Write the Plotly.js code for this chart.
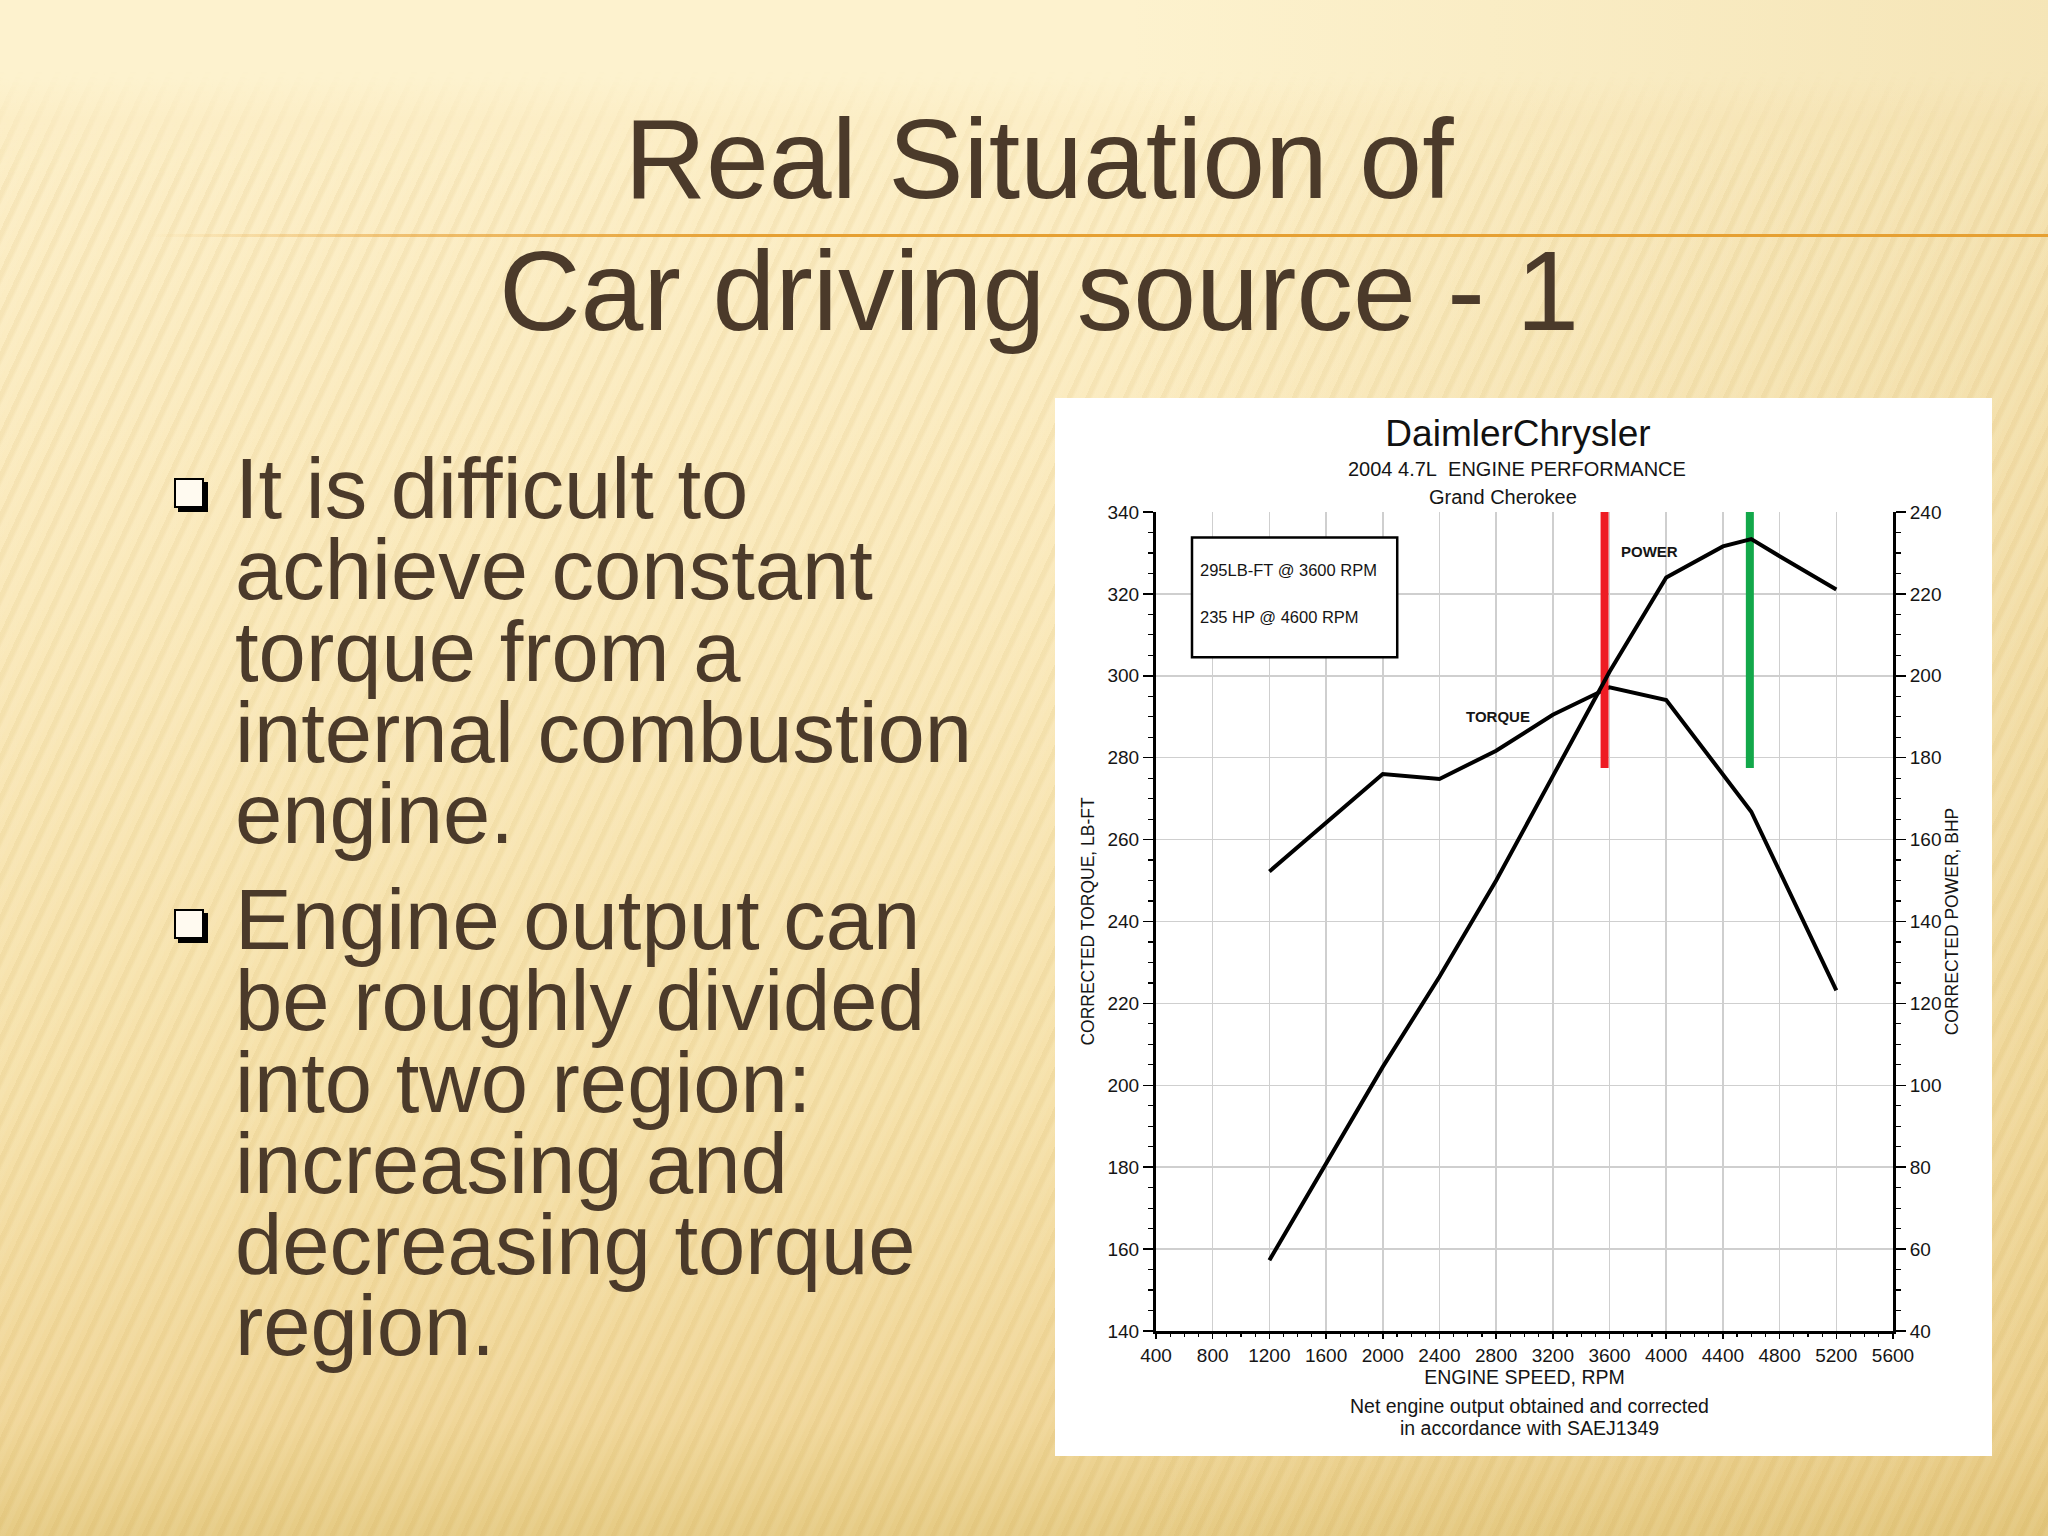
<!DOCTYPE html>
<html>
<head>
<meta charset="utf-8">
<script src="https://cdn.plot.ly/plotly-3.0.1.min.js"></script>
<style>
  html, body { margin:0; padding:0; }
  body {
    width:2048px; height:1536px; overflow:hidden; position:relative;
    font-family: "Liberation Sans", Arial, sans-serif;
    background:
      linear-gradient(90deg, rgba(255,255,255,0) 55%, rgba(214,178,92,0.20) 100%),
      linear-gradient(180deg, #FDF2CE 0px, #FDF2CE 80px, #FCEEC6 120px, #FAE9BB 600px, #F6E1AA 1100px, #F0D698 1420px, #E6CB84 1536px);
  }
  #stripes {
    position:absolute; left:0; top:70px; width:2048px; height:1466px;
    background: repeating-linear-gradient(115deg,
      rgba(196,158,70,0.09) 0px, rgba(196,158,70,0.09) 4px,
      rgba(255,250,230,0.07) 7px, rgba(255,250,230,0.07) 11px,
      rgba(255,255,255,0) 13px, rgba(255,255,255,0) 17px);
    -webkit-mask-image: linear-gradient(180deg, transparent 0px, #000 110px, #000 100%);
    mask-image: linear-gradient(180deg, transparent 0px, #000 110px, #000 100%);
  }
  #rule {
    position:absolute; left:150px; top:234px; width:1898px; height:3px;
    background: linear-gradient(90deg, rgba(232,163,58,0) 0px, rgba(232,163,58,0.6) 250px, #E6A032 600px, #E6A032 100%);
  }
  #title {
    position:absolute; left:0; top:94px; width:2078px; text-align:center;
    font-size:113px; line-height:131.5px; color:#4b3a2a; white-space:nowrap;
  }
  .para { position:absolute; left:235px; color:#4b3a2a; white-space:nowrap; }
  .para div { height:81.3px; font-size:85px; line-height:81.3px; overflow:visible; }
  .bullet {
    position:absolute; left:174px; width:26px; height:26px;
    border:2.5px solid #000; background:#fffaf0;
    box-shadow: 4px 4px 0 #000;
  }
  #chart {
    position:absolute; left:1055px; top:398px; width:937px; height:1058px; background:#fff;
  }
</style>
</head>
<body>
<div id="stripes"></div>
<div id="rule"></div>
<div id="title">Real Situation of<br>Car driving source - 1</div>

<div class="bullet" style="top:478px;"></div>
<div class="para" style="top:448px;">
  <div>It is difficult to</div><div>achieve constant</div><div>torque from a</div><div>internal combustion</div><div>engine.</div>
</div>
<div class="bullet" style="top:909px;"></div>
<div class="para" style="top:879px;">
  <div>Engine output can</div><div>be roughly divided</div><div>into two region:</div><div>increasing and</div><div>decreasing torque</div><div>region.</div>
</div>

<div id="chart"></div>

<script>
// ---- data ----
const rpmTorque   = [1200, 1600, 2000, 2400, 2800, 3200, 3600, 4000, 4600, 5200];
const torqueLbFt  = [252.2, 264, 276, 274.8, 281.7, 290.5, 297.2, 294.1, 266.8, 223.2];
const rpmPower    = [1200, 1600, 2000, 2400, 2800, 3200, 3600, 4000, 4400, 4600, 4800, 5200];
const powerBhp    = [57.3, 81, 104.5, 126.5, 150, 175.5, 201, 224, 231.6, 233.4, 229.2, 221.1];
const markerRpm   = [3565, 4590];
const markerLow   = [277.5, 277.5];
const markerHigh  = [340, 340];
const markerColors = ['#ee1c24', '#13a84a'];
const rpmTicks    = [400, 800, 1200, 1600, 2000, 2400, 2800, 3200, 3600, 4000, 4400, 4800, 5200, 5600];
const torqueTicks = [140, 160, 180, 200, 220, 240, 260, 280, 300, 320, 340];
const powerTicks  = [40, 60, 80, 100, 120, 140, 160, 180, 200, 220, 240];
const boxLines    = ['295LB-FT @ 3600 RPM', '235 HP @ 4600 RPM'];
const boxLineY    = [325.8, 314.4];
const curveLabels = ['POWER', 'TORQUE'];
const curveLabelX = [3885, 2813];
const curveLabelY = [330.3, 290.1];

const FONT = '"Liberation Sans", Arial, sans-serif';
const INK = '#151515';

const traces = [
  {x: rpmTorque, y: torqueLbFt, type:'scatter', mode:'lines', yaxis:'y',
   line:{color:'#000', width:4}, hoverinfo:'skip'},
  {x: rpmPower, y: powerBhp, type:'scatter', mode:'lines', yaxis:'y2',
   line:{color:'#000', width:4}, hoverinfo:'skip'}
];
markerRpm.forEach((r, i) => {
  traces.push({x:[r, r], y:[markerLow[i], markerHigh[i]], type:'scatter', mode:'lines', yaxis:'y',
    line:{color:markerColors[i], width:8}, hoverinfo:'skip'});
});

const annotations = [
  {text:'2004 4.7L\u00a0\u00a0ENGINE PERFORMANCE', xref:'paper', yref:'paper', x:0.4905, y:1.0521,
   xanchor:'center', yanchor:'middle', showarrow:false, font:{family:FONT, size:20, color:INK}},
  {text:'Grand Cherokee', xref:'paper', yref:'paper', x:0.4708, y:1.0179,
   xanchor:'center', yanchor:'middle', showarrow:false, font:{family:FONT, size:20, color:INK}},
  {text:'Net engine output obtained and corrected', xref:'paper', yref:'paper', x:0.5069, y:-0.0915,
   xanchor:'center', yanchor:'middle', showarrow:false, font:{family:FONT, size:19.5, color:INK}},
  {text:'in accordance with SAEJ1349', xref:'paper', yref:'paper', x:0.5069, y:-0.1188,
   xanchor:'center', yanchor:'middle', showarrow:false, font:{family:FONT, size:19.5, color:INK}}
];
boxLines.forEach((t, i) => annotations.push({
  text:t, xref:'x', yref:'y', x:696, y:boxLineY[i], xanchor:'left', yanchor:'middle',
  showarrow:false, font:{family:FONT, size:16.5, color:INK}}));
curveLabels.forEach((t, i) => annotations.push({
  text:'<b>'+t+'</b>', xref:'x', yref:'y', x:curveLabelX[i], y:curveLabelY[i],
  xanchor:'center', yanchor:'middle', showarrow:false, font:{family:FONT, size:15, color:INK}}));

const layout = {
  width:937, height:1058,
  margin:{l:101, r:99, t:114, b:125, pad:0},
  paper_bgcolor:'#ffffff', plot_bgcolor:'#ffffff',
  showlegend:false,
  font:{family:FONT, color:INK},
  title:{text:'DaimlerChrysler', xref:'container', yref:'container', x:0.4941, y:0.9669,
         xanchor:'center', yanchor:'middle', font:{family:FONT, size:37, color:'#111'}},
  xaxis:{
    range:[400, 5600], tickmode:'array', tickvals:rpmTicks, ticktext:rpmTicks.map(String),
    showgrid:true, gridcolor:'#cfcfcf', gridwidth:1.5, zeroline:false,
    showline:true, linecolor:'#000', linewidth:3,
    ticks:'outside', ticklen:5, tickwidth:1.5, tickcolor:'#000',
    minor:{dtick:100, ticks:'outside', ticklen:3, tickwidth:1.2, tickcolor:'#000', showgrid:false},
    tickfont:{family:FONT, size:19, color:INK},
    title:{text:'ENGINE SPEED, RPM', font:{family:FONT, size:19.5, color:INK}, standoff:3},
    automargin:false, fixedrange:true
  },
  yaxis:{
    range:[140, 340], tickmode:'array', tickvals:torqueTicks, ticktext:torqueTicks.map(String),
    showgrid:true, gridcolor:'#cfcfcf', gridwidth:1.5, zeroline:false,
    showline:true, linecolor:'#000', linewidth:3,
    ticks:'outside', ticklen:10, tickwidth:1.5, tickcolor:'#000',
    minor:{dtick:5, ticks:'outside', ticklen:5, tickwidth:1.2, tickcolor:'#000', showgrid:false},
    tickfont:{family:FONT, size:19, color:INK},
    title:{text:'CORRECTED TORQUE, LB-FT', font:{family:FONT, size:17.5, color:INK}, standoff:9},
    automargin:false, fixedrange:true
  },
  yaxis2:{
    range:[40, 240], overlaying:'y', side:'right', tickmode:'array', tickvals:powerTicks, ticktext:powerTicks.map(String),
    showgrid:false, zeroline:false,
    showline:true, linecolor:'#000', linewidth:3,
    ticks:'outside', ticklen:10, tickwidth:1.5, tickcolor:'#000',
    minor:{dtick:5, ticks:'outside', ticklen:5, tickwidth:1.2, tickcolor:'#000', showgrid:false},
    tickfont:{family:FONT, size:19, color:INK},
    title:{text:'CORRECTED POWER, BHP', font:{family:FONT, size:17.5, color:INK}, standoff:5},
    automargin:false, fixedrange:true
  },
  shapes:[
    {type:'rect', xref:'x', yref:'y', x0:654, x1:2102, y0:304.5, y1:333.8,
     line:{color:'#000', width:2.5}, fillcolor:'#ffffff', layer:'above'}
  ],
  annotations: annotations
};

Plotly.newPlot('chart', traces, layout, {displayModeBar:false, staticPlot:true});
</script>
</body>
</html>
